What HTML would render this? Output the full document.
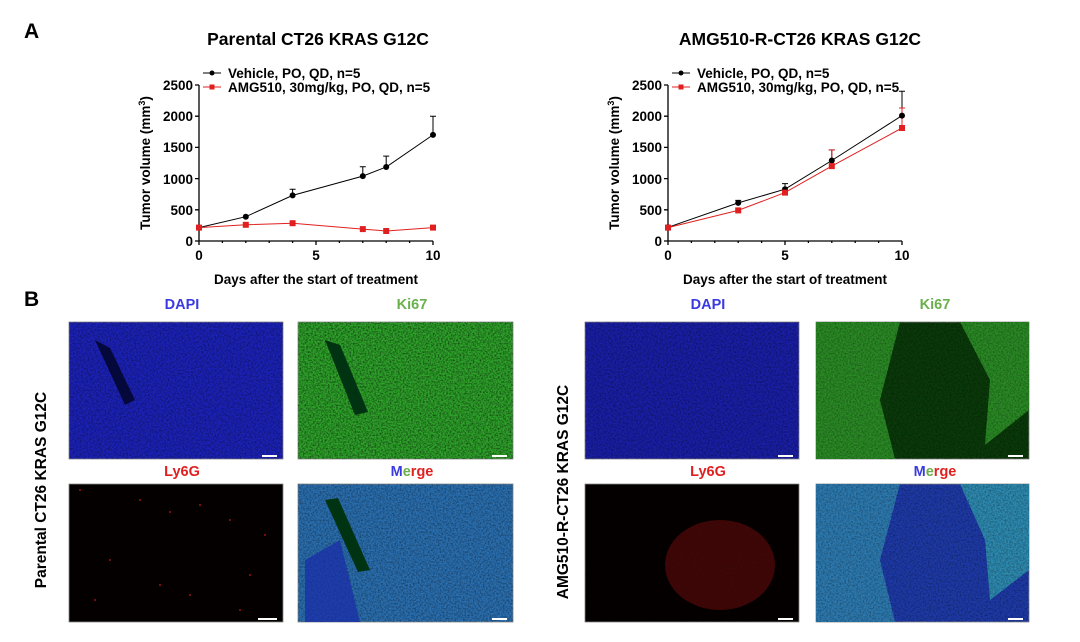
<!DOCTYPE html>
<html><head><meta charset="utf-8"><style>
body{margin:0;background:#fff}
svg{display:block;font-family:"Liberation Sans",Arial,sans-serif;font-weight:bold}
</style></head><body>
<svg width="1080" height="642" viewBox="0 0 1080 642" xmlns="http://www.w3.org/2000/svg">
<defs>
<filter id="tex" x="0" y="0" width="100%" height="100%">
<feTurbulence type="fractalNoise" baseFrequency="0.6" numOctaves="2" seed="3"/>
<feColorMatrix type="matrix" values="0 0 0 0 0  0 0 0 0 0  0 0 0 0 0  0 0 0 -1.4 0.9"/>
<feComposite in2="SourceGraphic" operator="in"/>
</filter>
</defs>
<rect width="1080" height="642" fill="#fff"/>
<text x="24" y="38" font-size="21">A</text>
<text x="24" y="306" font-size="21">B</text>

<!-- Left chart -->
<text x="318" y="45" font-size="17.5" text-anchor="middle">Parental CT26 KRAS G12C</text>
<g font-size="13.5">
<line x1="203" y1="73" x2="221" y2="73" stroke="#000"/><circle cx="212" cy="73" r="2.5"/>
<text x="228" y="78">Vehicle, PO, QD, n=5</text>
<line x1="203" y1="87" x2="221" y2="87" stroke="#e02020"/><rect x="209.5" y="84.5" width="5" height="5" fill="#e02020"/>
<text x="228" y="92">AMG510, 30mg/kg, PO, QD, n=5</text>
</g>
<g stroke="#000" stroke-width="1.3" fill="none">
<path d="M199 85V241H433"/>
<path d="M195 85h4M195 116.2h4M195 147.4h4M195 178.6h4M195 209.8h4M195 241h4"/>
<path d="M199 241v4M316 241v4M433 241v4M222.4 241v2M245.8 241v2M269.2 241v2M292.6 241v2M339.4 241v2M362.8 241v2M386.2 241v2M409.6 241v2"/>
</g>
<g font-size="13.5" text-anchor="end">
<text x="193" y="90">2500</text><text x="193" y="121">2000</text><text x="193" y="152">1500</text><text x="193" y="184">1000</text><text x="193" y="215">500</text><text x="193" y="246">0</text>
</g>
<g font-size="13.5" text-anchor="middle">
<text x="199" y="260">0</text><text x="316" y="260">5</text><text x="433" y="260">10</text>
<text x="316" y="284">Days after the start of treatment</text>
</g>
<text transform="translate(150,163) rotate(-90)" font-size="13.5" text-anchor="middle">Tumor volume (mm<tspan dy="-5" font-size="9">3</tspan><tspan dy="5">)</tspan></text>
<g stroke="#000" stroke-width="1" fill="none">
<path d="M292.6 195.4V189.2m-3 0h6M362.8 176.1V166.8m-3 0h6M386.2 167V156.1m-3 0h6M433 134.9V116.2m-3 0h6"/>
<polyline points="199,227.6 245.8,216.7 292.6,195.4 362.8,176.1 386.2,167 433,134.9"/>
</g>
<polyline fill="none" stroke="#e02020" stroke-width="1" points="199,227.6 245.8,224.8 292.6,223.2 362.8,229.1 386.2,231 433,227.6"/>
<g fill="#000"><circle cx="199" cy="227.6" r="3"/><circle cx="245.8" cy="216.7" r="3"/><circle cx="292.6" cy="195.4" r="3"/><circle cx="362.8" cy="176.1" r="3"/><circle cx="386.2" cy="167" r="3"/><circle cx="433" cy="134.9" r="3"/></g>
<g fill="#e02020"><rect x="196" y="224.6" width="6" height="6"/><rect x="242.8" y="221.8" width="6" height="6"/><rect x="289.6" y="220.2" width="6" height="6"/><rect x="359.8" y="226.1" width="6" height="6"/><rect x="383.2" y="228" width="6" height="6"/><rect x="430" y="224.6" width="6" height="6"/></g>

<!-- Right chart -->
<text x="800" y="45" font-size="17.5" text-anchor="middle">AMG510-R-CT26 KRAS G12C</text>
<g font-size="13.5">
<line x1="672" y1="73" x2="690" y2="73" stroke="#000"/><circle cx="681" cy="73" r="2.5"/>
<text x="697" y="78">Vehicle, PO, QD, n=5</text>
<line x1="672" y1="87" x2="690" y2="87" stroke="#e02020"/><rect x="678.5" y="84.5" width="5" height="5" fill="#e02020"/>
<text x="697" y="92">AMG510, 30mg/kg, PO, QD, n=5</text>
</g>
<g stroke="#000" stroke-width="1.3" fill="none">
<path d="M668 85V241H902"/>
<path d="M664 85h4M664 116.2h4M664 147.4h4M664 178.6h4M664 209.8h4M664 241h4"/>
<path d="M668 241v4M785 241v4M902 241v4M691.4 241v2M714.8 241v2M738.2 241v2M761.6 241v2M808.4 241v2M831.8 241v2M855.2 241v2M878.6 241v2"/>
</g>
<g font-size="13.5" text-anchor="end">
<text x="662" y="90">2500</text><text x="662" y="121">2000</text><text x="662" y="152">1500</text><text x="662" y="184">1000</text><text x="662" y="215">500</text><text x="662" y="246">0</text>
</g>
<g font-size="13.5" text-anchor="middle">
<text x="668" y="260">0</text><text x="785" y="260">5</text><text x="902" y="260">10</text>
<text x="785" y="284">Days after the start of treatment</text>
</g>
<text transform="translate(619,163) rotate(-90)" font-size="13.5" text-anchor="middle">Tumor volume (mm<tspan dy="-5" font-size="9">3</tspan><tspan dy="5">)</tspan></text>
<g stroke="#000" stroke-width="1" fill="none">
<path d="M738.2 202.9V200.4m-3 0h6M785 189.2V183.6m-3 0h6M831.8 160.5V149.9m-3 0h6M902 115.6V91.2m-3 0h6"/>
<polyline points="668,227.3 738.2,202.9 785,189.2 831.8,160.5 902,115.6"/>
</g>
<g stroke="#e02020" stroke-width="1" fill="none">
<path d="M831.8 166.1V150m-3 0h6M902 128V108m-3 0h6"/>
<polyline points="668,227.6 738.2,210.4 785,192.6 831.8,166.1 902,128"/>
</g>
<g fill="#000"><circle cx="668" cy="227.3" r="3"/><circle cx="738.2" cy="202.9" r="3"/><circle cx="785" cy="189.2" r="3"/><circle cx="831.8" cy="160.5" r="3"/><circle cx="902" cy="115.6" r="3"/></g>
<g fill="#e02020"><rect x="665" y="224.6" width="6" height="6"/><rect x="735.2" y="207.4" width="6" height="6"/><rect x="782" y="189.6" width="6" height="6"/><rect x="828.8" y="163.1" width="6" height="6"/><rect x="899" y="125" width="6" height="6"/></g>

<!-- B labels -->
<g font-size="14.5" text-anchor="middle">
<text x="182" y="309" fill="#3a3ae0">DAPI</text>
<text x="412" y="309" fill="#6ab04c">Ki67</text>
<text x="182" y="476" fill="#e02020">Ly6G</text>
<text x="412" y="476"><tspan fill="#3a3ae0">M</tspan><tspan fill="#6ab04c">e</tspan><tspan fill="#e02020">rge</tspan></text>
<text x="708" y="309" fill="#3a3ae0">DAPI</text>
<text x="935" y="309" fill="#6ab04c">Ki67</text>
<text x="708" y="476" fill="#e02020">Ly6G</text>
<text x="935" y="476"><tspan fill="#3a3ae0">M</tspan><tspan fill="#6ab04c">e</tspan><tspan fill="#e02020">rge</tspan></text>
</g>
<text transform="translate(46,490) rotate(-90)" font-size="15.5" text-anchor="middle">Parental CT26 KRAS G12C</text>
<text transform="translate(568,492) rotate(-90)" font-size="15.5" text-anchor="middle">AMG510-R-CT26 KRAS G12C</text>

<!-- Left images -->
<rect x="69" y="322" width="214" height="137" fill="#1c22b8" stroke="#888" stroke-width="0.8"/>
<rect x="69" y="322" width="214" height="137" fill="#1c22b8" filter="url(#tex)" opacity="0.6"/>
<path d="M95 340 L110 348 L135 400 L125 405 Z" fill="#05083a"/>
<rect x="298" y="322" width="215" height="137" fill="#2ea32a" stroke="#888" stroke-width="0.8"/>
<rect x="298" y="322" width="215" height="137" fill="#2ea32a" filter="url(#tex)" opacity="0.8"/>
<path d="M325 340 L340 345 L368 412 L355 415 Z" fill="#031"/>
<rect x="69" y="484" width="214" height="138" fill="#050000" stroke="#888" stroke-width="0.8"/>
<g fill="#c01818"><circle cx="80" cy="490" r="0.9"/><circle cx="140" cy="500" r="0.9"/><circle cx="170" cy="512" r="0.9"/><circle cx="200" cy="505" r="0.9"/><circle cx="230" cy="520" r="0.9"/><circle cx="110" cy="560" r="0.9"/><circle cx="160" cy="585" r="0.9"/><circle cx="250" cy="575" r="0.9"/><circle cx="240" cy="610" r="0.9"/><circle cx="95" cy="600" r="0.9"/><circle cx="190" cy="595" r="0.9"/><circle cx="265" cy="535" r="0.9"/></g>
<rect x="298" y="484" width="215" height="138" fill="#2a6fb0" stroke="#888" stroke-width="0.8"/>
<rect x="298" y="484" width="215" height="138" fill="#2a6fb0" filter="url(#tex)" opacity="0.6"/>
<path d="M305 560 L340 540 L360 622 L305 622 Z" fill="#1a2aa8" opacity="0.7"/>
<path d="M325 500 L338 498 L370 570 L358 572 Z" fill="#031"/>
<!-- Right images -->
<rect x="585" y="322" width="214" height="137" fill="#1a1fa8" stroke="#888" stroke-width="0.8"/>
<rect x="585" y="322" width="214" height="137" fill="#1a1fa8" filter="url(#tex)" opacity="0.6"/>
<rect x="816" y="322" width="213" height="137" fill="#0a3a0a" stroke="#888" stroke-width="0.8"/>
<path d="M816 322 H900 L880 400 L895 459 H816 Z" fill="#2a8a25"/>
<path d="M960 322 H1029 V410 L985 445 L990 380 Z" fill="#2a8a25"/>
<rect x="816" y="322" width="213" height="137" fill="#2a8a25" filter="url(#tex)" opacity="0.5"/>
<rect x="585" y="484" width="214" height="138" fill="#050000" stroke="#888" stroke-width="0.8"/>
<ellipse cx="720" cy="565" rx="55" ry="45" fill="#5a0a0a" opacity="0.7"/>
<rect x="585" y="484" width="214" height="138" fill="#900" filter="url(#tex)" opacity="0.25"/>
<rect x="816" y="484" width="213" height="138" fill="#1e3aa8" stroke="#888" stroke-width="0.8"/>
<path d="M816 484 H900 L880 560 L895 622 H816 Z" fill="#2d7ab0"/>
<path d="M960 484 H1029 V570 L990 600 L985 540 Z" fill="#2d8ab0"/>
<rect x="816" y="484" width="213" height="138" fill="#1e3aa8" filter="url(#tex)" opacity="0.5"/>
<!-- scale bars -->
<g fill="#fff"><rect x="262" y="455" width="15" height="2"/><rect x="492" y="455" width="15" height="2"/><rect x="258" y="618" width="19" height="2"/><rect x="492" y="618" width="15" height="2"/><rect x="778" y="455" width="15" height="2"/><rect x="1008" y="455" width="15" height="2"/><rect x="778" y="618" width="15" height="2"/><rect x="1008" y="618" width="15" height="2"/></g>
</svg>
</body></html>
